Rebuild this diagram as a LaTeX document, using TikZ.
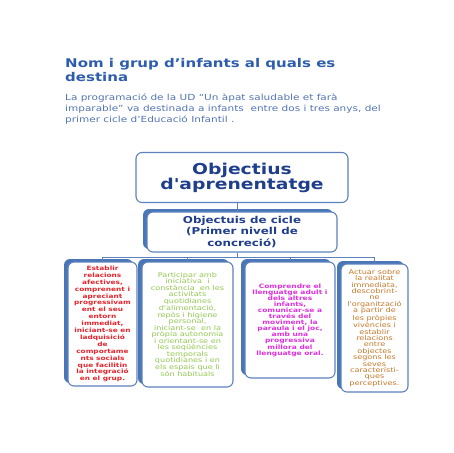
\documentclass[tikz,border=0pt]{standalone}
\usepackage{fontspec}
\setmainfont[FakeStretch=1.25, Ligatures=TeXOff]{DejaVu Sans}
\usetikzlibrary{shadows}
\definecolor{titleblue}{HTML}{2F5DAE}
\definecolor{parablue}{HTML}{5273B3}
\definecolor{boxblue}{HTML}{5B82BD}
\definecolor{shblue}{HTML}{4A76B8}
\definecolor{darkblue}{HTML}{1F3E8C}
\definecolor{tred}{HTML}{E3262E}
\definecolor{tgreen}{HTML}{93C852}
\definecolor{tmag}{HTML}{DD33DD}
\definecolor{torange}{HTML}{C47A2C}
\tikzset{
  boxline/.style={draw=boxblue, line width=1.1pt, rounded corners=6pt, fill=white, inner sep=0pt, align=center},
  shbox/.style={boxline, general shadow={fill=shblue, shadow xshift=-4pt, shadow yshift=3pt}},
  conn/.style={draw=boxblue, line width=1pt},
  txt/.style={anchor=base west, inner sep=0pt},
}
\begin{document}
\begin{tikzpicture}[x=1pt,y=-1pt]
\useasboundingbox (0,0) rectangle (453,453);
% heading
\node[txt, text=titleblue, font=\bfseries\fontsize{12}{14}\selectfont] (t1) at (65,67) {Nom i grup d’infants al quals es};
\node[txt, text=titleblue, font=\bfseries\fontsize{12}{14}\selectfont] (t2) at (65,81.5) {destina};
\node[txt, text=parablue, font=\fontsize{8.4}{11}\selectfont] (p1) at (65,100) {La programació de la UD “Un àpat saludable et farà};
\node[txt, text=parablue, font=\fontsize{8.4}{11}\selectfont] (p2) at (65,111) {imparable” va destinada a infants \ entre dos i tres anys, del};
\node[txt, text=parablue, font=\fontsize{8.4}{11}\selectfont] (p3) at (65,122.5) {primer cicle d’Educació Infantil .};
% boxes
\node[boxline, minimum width=212pt, minimum height=50pt, text=darkblue, font=\bfseries\fontsize{15}{15}\selectfont] (top) at (242,177.5) {Objectius\\d'aprenentatge};
\node[shbox, minimum width=190pt, minimum height=40pt, text=darkblue, font=\bfseries\fontsize{9.5}{11.5}\selectfont] (mid) at (242,232) {Objectuis de cicle\\(Primer nivell de\\concreció)};
\node[shbox, minimum width=69pt, minimum height=124pt, text=tred, font=\bfseries\fontsize{5.9}{6.9}\selectfont] (c1) at (102.5,324) {Establir\\relacions\\afectives,\\comprenent i\\apreciant\\progressivam\\ent el seu\\entorn\\immediat,\\iniciant-se en\\ladquisició\\de\\comportame\\nts socials\\que facilitin\\la integració\\en el grup.};
\node[shbox, minimum width=91pt, minimum height=125pt, text=tgreen, font=\fontsize{6.5}{6.5}\selectfont] (c2) at (187.5,324.5) {Participar amb\\iniciativa \ i\\constància \ en les\\activitats\\quotidianes\\d'alimentació,\\repòs i higiene\\personal,\\iniciant-se \ en la\\pròpia autonomia\\i orientant-se en\\les seqüències\\temporals\\quotidianes i en\\els espais que li\\són habituals};
\node[shbox, minimum width=90pt, minimum height=116pt, text=tmag, font=\bfseries\fontsize{6}{6.1}\selectfont] (c3) at (290,320) {Comprendre el\\llenguatge adult i\\dels altres\\infants,\\comunicar-se a\\través del\\moviment, la\\paraula i el joc,\\amb una\\progressiva\\millora del\\llenguatge oral.};
\node[shbox, minimum width=67pt, minimum height=128pt, text=torange, font=\fontsize{6.5}{6.4}\selectfont] (c4) at (374.5,328) {Actuar sobre\\la realitat\\immediata,\\descobrint-\\ne\\l'organització\\a partir de\\les pròpies\\vivències i\\establir\\relacions\\entre\\objectes\\segons les\\seves\\característi-\\ques\\perceptives.};
% connectors
\coordinate (bus) at (0,257);
\draw[conn] ([xshift=-5pt]top.south) -- ([xshift=-5pt]mid.north);
\draw[conn] ([xshift=-5pt]mid.south) -- ([xshift=-5pt]mid.south |- bus);
\draw[conn] (c1.north) -- (c1.north |- bus) -- (c4.north |- bus) -- (c4.north);
\draw[conn] (c2.north) -- (c2.north |- bus);
\draw[conn] (c3.north) -- (c3.north |- bus);
\end{tikzpicture}
\end{document}
